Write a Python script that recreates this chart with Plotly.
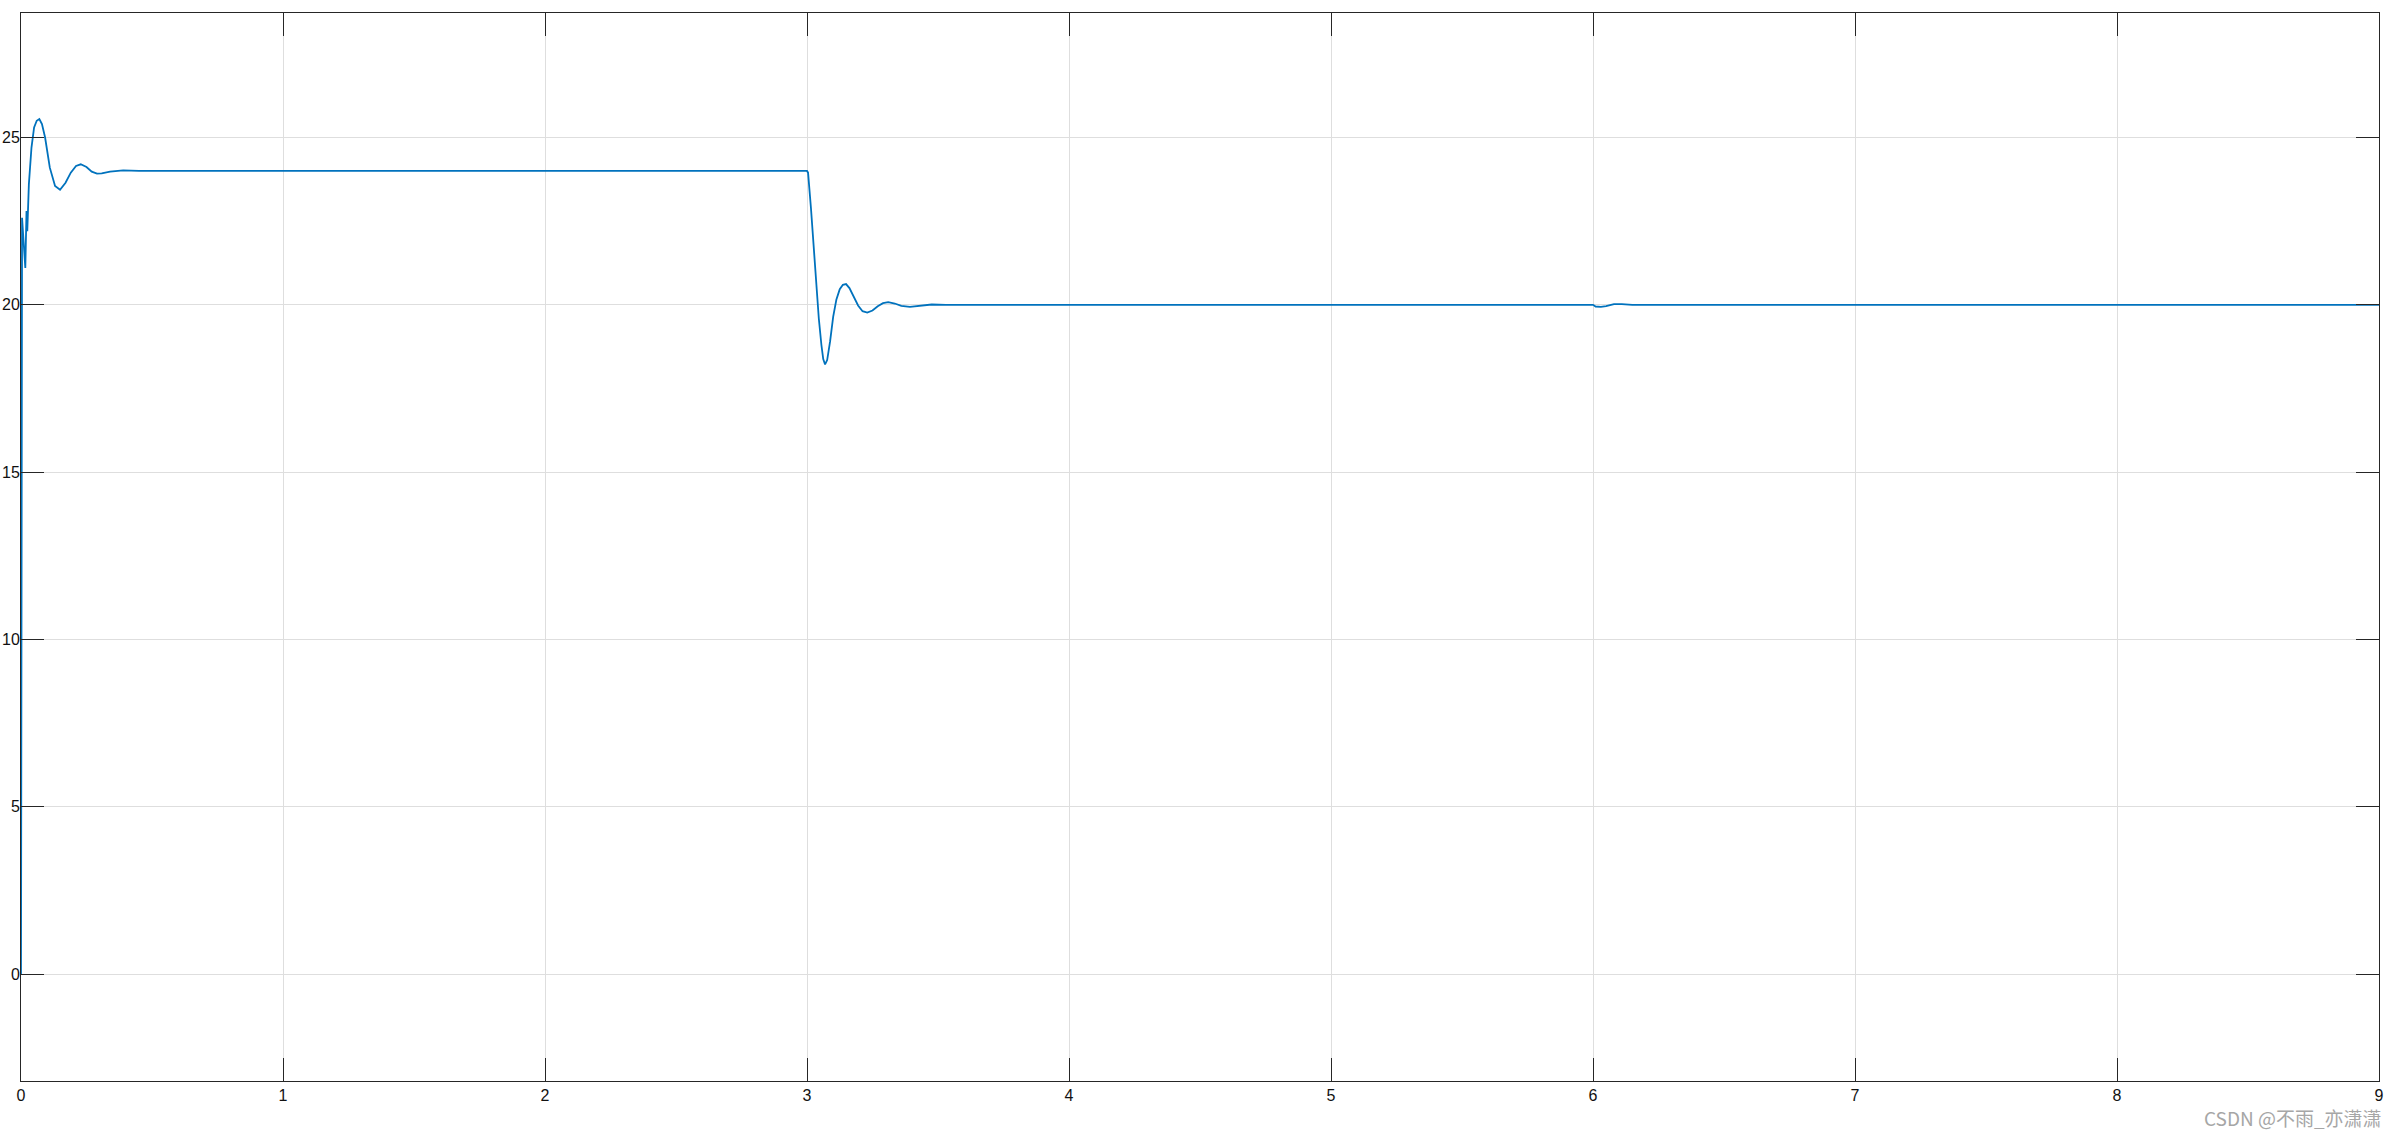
import plotly.graph_objects as go

# time (s) and response values
t_start = [0.0, 0.004, 0.0165, 0.021, 0.024, 0.030, 0.040, 0.050, 0.060, 0.070,
           0.080, 0.092, 0.110, 0.130, 0.149, 0.170, 0.190, 0.210, 0.228, 0.250,
           0.270, 0.290, 0.308, 0.340, 0.390, 0.450]
y_start = [0.0, 22.6, 21.1, 22.8, 22.2, 23.6, 24.7, 25.3, 25.5, 25.55,
           25.4, 25.0, 24.1, 23.55, 23.44, 23.65, 23.95, 24.15, 24.2, 24.12,
           23.98, 23.92, 23.93, 23.98, 24.02, 24.0]

t_step = [3.0, 3.004, 3.015, 3.030, 3.045, 3.055, 3.062, 3.069, 3.077, 3.088,
          3.100, 3.112, 3.125, 3.137, 3.149, 3.162, 3.178, 3.195, 3.212, 3.230,
          3.250, 3.270, 3.290, 3.310, 3.335, 3.360, 3.393, 3.430, 3.476, 3.530]
y_step = [24.0, 23.95, 22.9, 21.2, 19.6, 18.8, 18.38, 18.22, 18.35, 18.9,
          19.65, 20.15, 20.47, 20.6, 20.62, 20.5, 20.25, 19.98, 19.81, 19.77,
          19.83, 19.96, 20.05, 20.08, 20.04, 19.97, 19.94, 19.98, 20.01, 20.0]

t_load = [6.0, 6.01, 6.03, 6.05, 6.08, 6.11, 6.15, 9.0]
y_load = [20.0, 19.95, 19.94, 19.96, 20.02, 20.02, 20.0, 20.0]

t = t_start + t_step + t_load
y = y_start + y_step + y_load

x_ticks = [0, 1, 2, 3, 4, 5, 6, 7, 8, 9]
y_ticks = [0, 5, 10, 15, 20, 25]

AXIS_COLOR = "#262626"
GRID_COLOR = "#dedede"

fig = go.Figure()

fig.add_trace(
    go.Scatter(
        x=t,
        y=y,
        mode="lines",
        line=dict(color="#0072bd", width=1.8),
        showlegend=False,
    )
)

axis_common = dict(
    showline=True,
    linecolor=AXIS_COLOR,
    linewidth=1,
    mirror="ticks",
    ticks="inside",
    ticklen=23,
    tickwidth=1,
    tickcolor=AXIS_COLOR,
    showgrid=True,
    gridcolor=GRID_COLOR,
    gridwidth=1,
    zeroline=False,
    automargin=False,
    tickfont=dict(family="Liberation Sans", size=16, color="#111111"),
)

fig.update_xaxes(range=[0, 9], tickvals=x_ticks, **axis_common)
fig.update_yaxes(range=[-3.19, 28.72], tickvals=y_ticks, ticklabelstandoff=-3, **axis_common)

fig.add_annotation(
    text="CSDN @不雨_亦潇潇",
    xref="paper",
    yref="paper",
    x=1.002,
    y=-0.034,
    xanchor="right",
    yanchor="middle",
    showarrow=False,
    font=dict(family="Noto Sans CJK SC", size=19, color="#a6a6a6"),
)

fig.update_layout(
    width=2400,
    height=1133,
    plot_bgcolor="white",
    paper_bgcolor="white",
    margin=dict(l=21, r=21, t=13, b=52),
)

# drop the browser's default body margin so the figure sits at the page corner
fig.write_html(
    "out.html",
    config={"displayModeBar": False},
    post_script="document.body.style.margin='0';document.body.style.overflow='hidden';",
)
